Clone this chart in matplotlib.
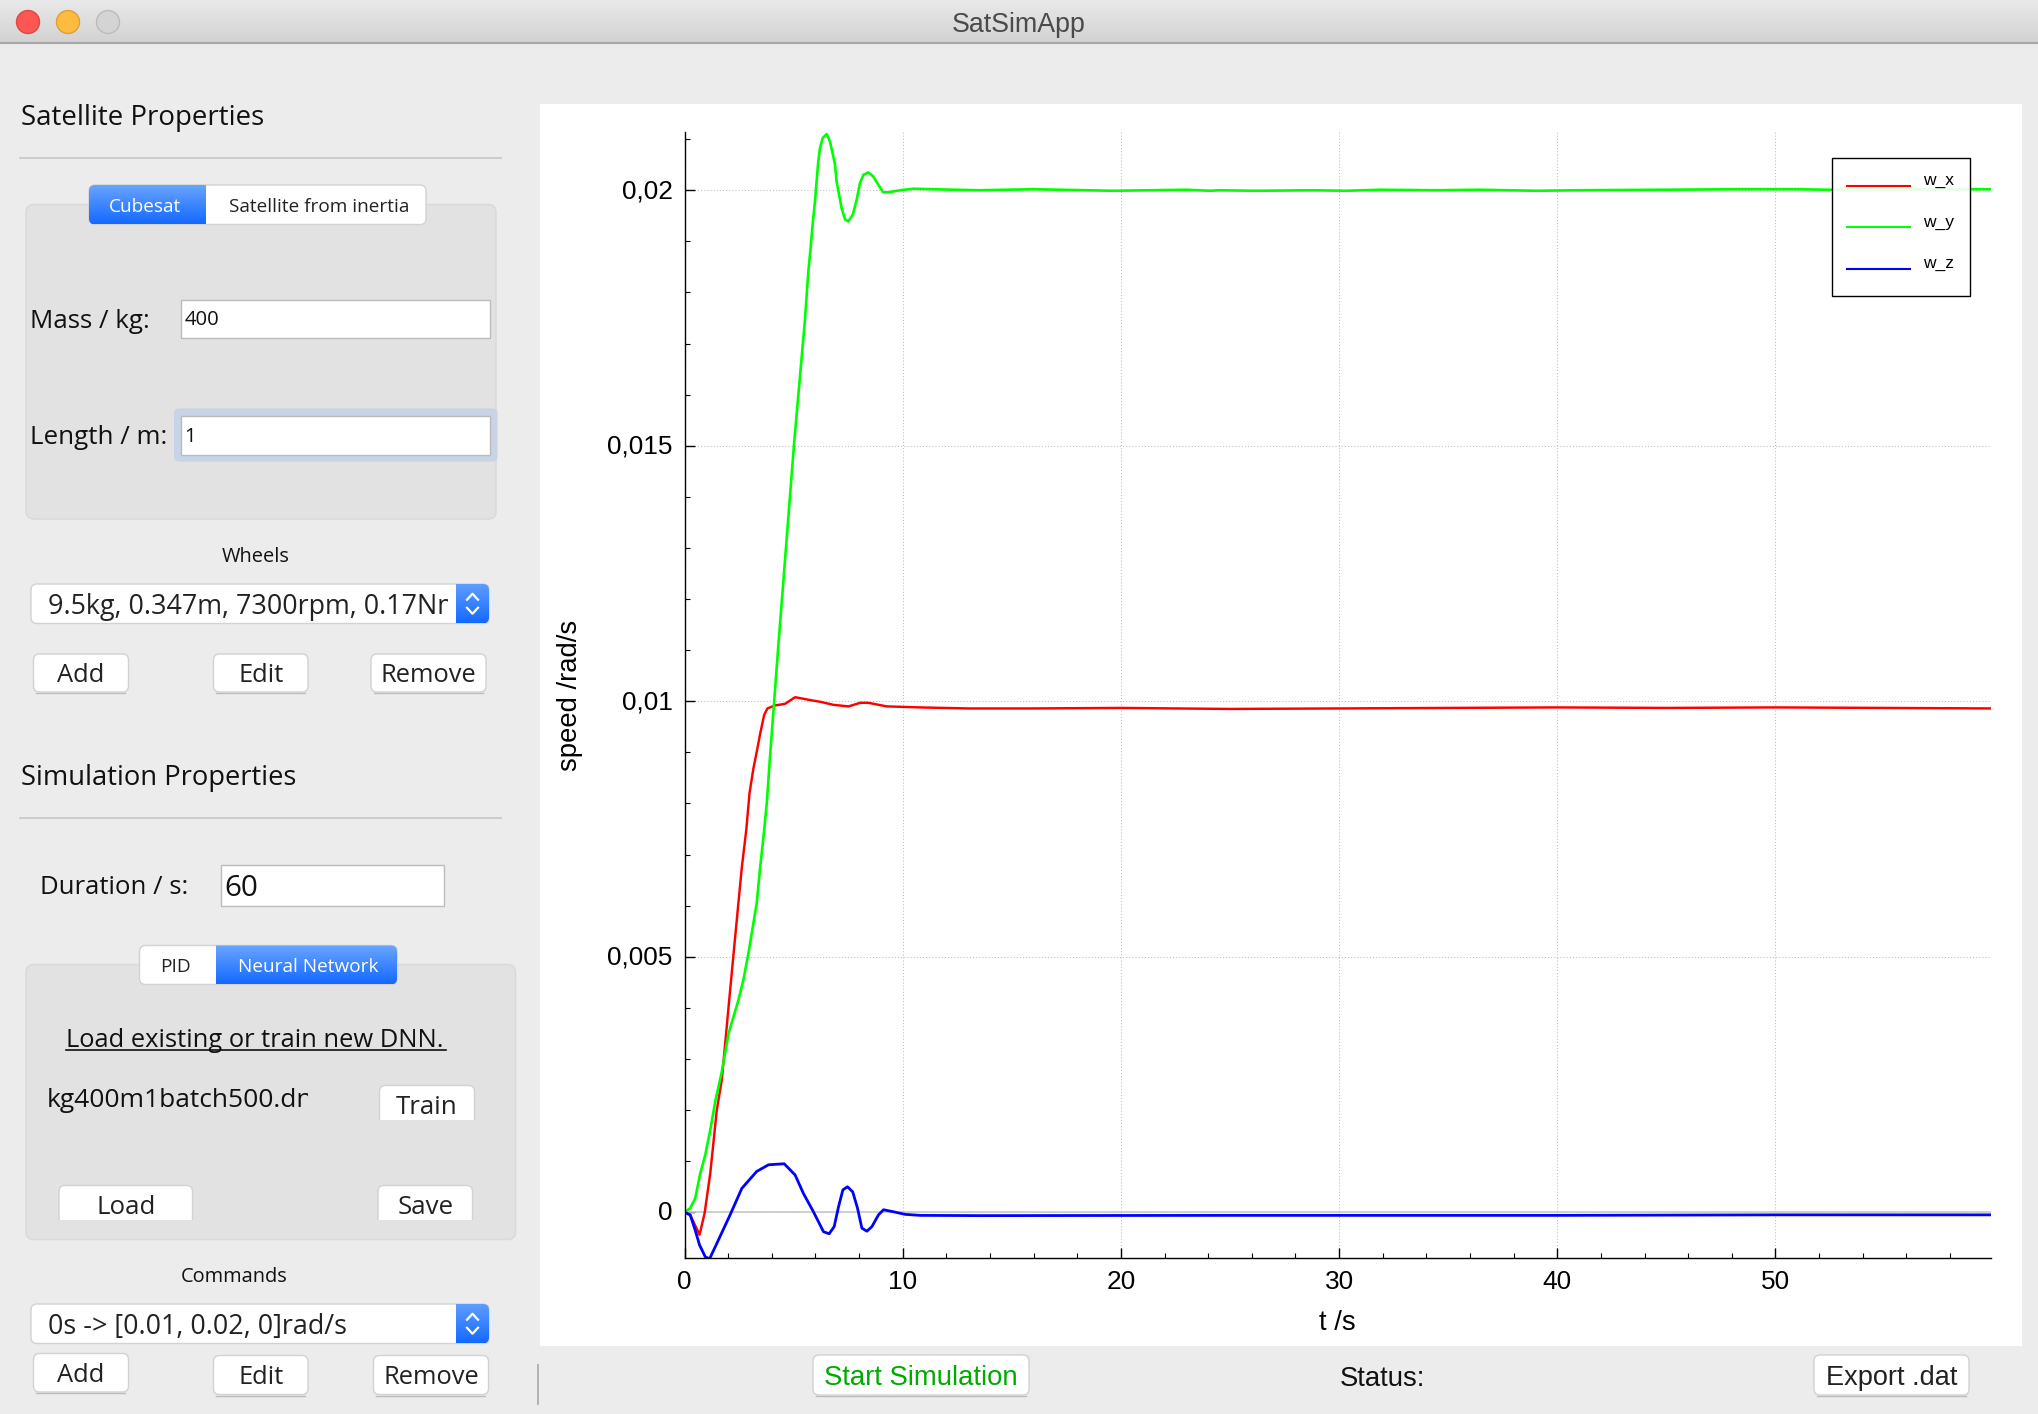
import matplotlib
matplotlib.use('Agg')
import matplotlib.pyplot as plt
import numpy as np
from matplotlib.patches import Circle, FancyBboxPatch, Rectangle
from matplotlib.ticker import MultipleLocator
from matplotlib.transforms import Bbox, ScaledTranslation, TransformedBbox

plt.rcParams['font.family'] = ['Liberation Sans', 'DejaVu Sans']

# Curves
t_x = [0, 0.26, 0.69, 0.92, 1.18, 1.48, 1.71, 2.02, 2.28, 2.47, 2.63, 2.83, 2.98, 3.16, 3.31,
       3.47, 3.65, 3.80, 4.16, 4.61, 5.07, 5.68, 6.22, 6.83, 7.52, 8.05, 8.43, 9.27, 10.04,
       10.8, 13, 16, 20, 25, 30, 35, 40, 45, 50, 55, 59.88]
w_x = [0, -0.00005, -0.00044, -0.00002, 0.00076, 0.0020, 0.00259, 0.00402, 0.0052, 0.00605,
       0.00676, 0.00748, 0.0082, 0.00869, 0.00901, 0.00937, 0.00973, 0.00986, 0.00992, 0.00995,
       0.01008, 0.01003, 0.00999, 0.00993, 0.0099, 0.00997, 0.00997, 0.0099, 0.00989, 0.00988,
       0.00986, 0.00986, 0.00987, 0.00985, 0.00986, 0.00987, 0.00988, 0.00987, 0.00988, 0.00987,
       0.00986]

t_y = [0, 0.26, 0.49, 0.72, 0.95, 1.18, 1.41, 1.71, 2.02, 2.47, 2.70, 2.93, 3.16, 3.31, 3.47,
       3.62, 3.77, 3.93, 4.08, 4.285, 5.02, 5.52, 5.6, 5.67, 5.78, 5.87, 5.98, 6.06, 6.13, 6.21,
       6.33, 6.52, 6.67, 6.79, 6.9, 6.97, 7.1, 7.2, 7.36, 7.51, 7.71, 7.89, 8.04, 8.2, 8.42, 8.65,
       8.88, 9.11, 9.34, 9.88, 10.49, 11.4, 13.5, 16.0, 19.65, 23.0, 24.1, 24.5, 26.2, 28.8, 30.3,
       31.9, 34.5, 36.4, 39.06, 41.0, 44.7, 48.2, 51.0, 52.4, 58.9, 59.88]
w_y = [0, 0.00008, 0.00027, 0.00076, 0.00112, 0.00161, 0.00217, 0.00275, 0.0035, 0.00415,
       0.00455, 0.00507, 0.00566, 0.00605, 0.00676, 0.00735, 0.008, 0.00898, 0.00983, 0.011,
       0.01503, 0.01746, 0.01795, 0.01838, 0.01887, 0.01932, 0.01978, 0.0202, 0.02056, 0.02082,
       0.02102, 0.0211, 0.02095, 0.02072, 0.0205, 0.02017, 0.01988, 0.01965, 0.01943, 0.01939,
       0.01952, 0.01981, 0.02014, 0.0203, 0.02035, 0.02027, 0.02011, 0.01996, 0.01996, 0.02,
       0.02003, 0.02002, 0.02, 0.02002, 0.01999, 0.02001, 0.01999, 0.02, 0.01999, 0.02, 0.01999,
       0.02001, 0.02, 0.02001, 0.01999, 0.02, 0.02001, 0.02002, 0.02002, 0.02001, 0.02002, 0.02002]

t_z = [0, 0.26, 0.49, 0.69, 0.95, 1.15, 1.48, 2.09, 2.63, 3.31, 3.85, 4.57, 5.07, 5.45, 5.91,
       6.37, 6.63, 6.86, 7.06, 7.26, 7.47, 7.71, 7.93, 8.13, 8.36, 8.59, 8.89, 9.12, 9.58, 10.11,
       10.8, 13.55, 25, 40, 50, 59.88]
w_z = [0, -0.00005, -0.00035, -0.00064, -0.00087, -0.00091, -0.00061, -0.00005, 0.00047, 0.0008,
       0.00093, 0.00095, 0.00073, 0.00037, 0.00001, -0.00038, -0.00042, -0.00028, 0.00011, 0.00044,
       0.0005, 0.0004, 0.00008, -0.00031, -0.00037, -0.00028, -0.00005, 0.00005, 0.00001, -0.00004,
       -0.00006, -0.000065, -0.00006, -0.00006, -0.00005, -0.00005]

x_ticks = [0, 10, 20, 30, 40, 50]
y_ticks = [0, 0.005, 0.01, 0.015, 0.02]
y_tick_labels = ['0', '0,005', '0,01', '0,015', '0,02']

W, H = 2038, 1414
fig = plt.figure(figsize=(W / 100, H / 100), dpi=100, facecolor='#ececec')

# window chrome is drawn in pixel coordinates on a full size axes
ui = fig.add_axes([0, 0, 1, 1], zorder=0)
ui.set_xlim(0, W)
ui.set_ylim(H, 0)
ui.axis('off')

PANEL_FONT = 'Open Sans'
BAR_FONT = 'Liberation Sans'


def label(x, y, s, size=15, color='#111111', ha='left', clip_x=None, font=PANEL_FONT):
    t = ui.text(x, y, s, fontsize=size, color=color, ha=ha, va='center_baseline', family=font)
    if clip_x is not None:
        t.set_clip_box(TransformedBbox(Bbox([[0, 0], [clip_x, H]]), ui.transData))
        t.set_clip_on(True)
    return t


def rounded(x0, y0, x1, y1, fc='white', ec='#c2c2c2', r=6, lw=1.2, z=2):
    p = FancyBboxPatch((x0, y0), x1 - x0, y1 - y0, boxstyle=f'round,pad=0,rounding_size={r}',
                       fc=fc, ec=ec, lw=lw, zorder=z, mutation_aspect=1)
    ui.add_patch(p)
    return p


def gradient(x0, y0, x1, y1, top, bottom, clip=None, z=3):
    c0 = np.array(matplotlib.colors.to_rgb(top))
    c1 = np.array(matplotlib.colors.to_rgb(bottom))
    g = np.linspace(0, 1, 64)[:, None, None] * (c1 - c0) + c0
    im = ui.imshow(g, extent=(x0, x1, y1, y0), aspect='auto', zorder=z, interpolation='bilinear')
    if clip is not None:
        im.set_clip_path(clip)
    ui.set_xlim(0, W)
    ui.set_ylim(H, 0)


def button(x0, y0, x1, y1, s, color='#222222', size=18.4, font=PANEL_FONT):
    ui.plot([x0 + 3, x1 - 3], [y1 + 1, y1 + 1], color='#bcbcbc', lw=1, zorder=1)
    rounded(x0, y0, x1, y1, ec='#d2d2d2', lw=1)
    label((x0 + x1) / 2, (y0 + y1) / 2, s, size=size, color=color, ha='center', font=font).set_zorder(4)


def cut_button(x0, y0, x1, y1, s):
    rounded(x0, y0, x1, y1 + 12, ec='#d2d2d2', lw=1)
    ui.add_patch(Rectangle((x0 - 3, y1), x1 - x0 + 6, 16, fc='#e2e2e2', ec='none', zorder=3))
    label((x0 + x1) / 2, y1 - 15, s, size=18.6, color='#222222', ha='center').set_zorder(4)


def field(x0, y0, x1, y1, s, size=14.6):
    ui.add_patch(Rectangle((x0, y0), x1 - x0, y1 - y0, fc='white', ec='#bcbcbc', lw=1, zorder=2))
    label(x0 + 3, (y0 + y1) / 2 - 1, s, size=size).set_zorder(4)


def combo(y0, y1, s, clip_x=None):
    p = rounded(31, y0, 489, y1, ec='#d2d2d2', lw=1)
    gradient(456, y0, 489, y1, '#5f9fff', '#1469ff', clip=p)
    mid = (y0 + y1) / 2
    ui.plot([467, 472.5, 478], [mid - 4, mid - 10, mid - 4], color='white', lw=1.6, zorder=4)
    ui.plot([467, 472.5, 478], [mid + 4, mid + 10, mid + 4], color='white', lw=1.6, zorder=4)
    label(48, mid, s, size=19.4, color='#222222', clip_x=clip_x).set_zorder(4)


def tabs(x0, split, x1, y0, y1, left, left_x, right, right_x, blue_left):
    p = rounded(x0, y0, x1, y1, ec='#d2d2d2', lw=1, z=3)
    if blue_left:
        gradient(x0, y0, split, y1, '#6aa5ff', '#1469ff', clip=p, z=3.5)
    else:
        gradient(split, y0, x1, y1, '#6aa5ff', '#1469ff', clip=p, z=3.5)
    mid = (y0 + y1) / 2
    label(left_x, mid, left, size=13.7, color='white' if blue_left else '#222222',
          ha='center').set_zorder(5)
    label(right_x, mid, right, size=13.7, color='#222222' if blue_left else 'white',
          ha='center').set_zorder(5)


# title bar
gradient(0, 0, W, 43, '#e9e9e9', '#d2d2d2', z=1)
ui.plot([0, W], [43, 43], color='#a6a6a6', lw=1.5, zorder=2)
for cx, col, edge in [(28, '#fc5753', '#df4744'), (68, '#fdbc40', '#de9f34'), (108, '#d4d4d4', '#bcbcbc')]:
    ui.add_patch(Circle((cx, 22), 11.5, fc=col, ec=edge, lw=1, zorder=3))
label(1019, 21.5, 'SatSimApp', size=19.3, color='#4a4a4a', ha='center', font=BAR_FONT).set_zorder(3)

# white plot panel
ui.add_patch(Rectangle((540, 104), 1482, 1242, fc='white', ec='none', zorder=0.5))

# satellite properties
label(21, 115, 'Satellite Properties', size=19.9)
ui.plot([20, 501], [158, 158], color='#c6c6c6', lw=1.2)
rounded(26, 204.5, 496, 519, fc='#e2e2e2', ec='#dadada', r=8, z=1)
tabs(89, 206, 426, 185, 224.5, 'Cubesat', 145, 'Satellite from inertia', 319.5, True)
label(30, 319, 'Mass / kg:', size=18.7)
field(181.5, 299.5, 490, 338, '400')
rounded(174, 408.5, 497.5, 461.5, fc='#c6d4e6', ec='none', r=5, z=1.5)
label(30, 435, 'Length / m:', size=18.7)
field(181.5, 415.5, 490, 454.5, '1')
label(255.5, 555, 'Wheels', size=14.4, ha='center')
combo(584, 623.5, '9.5kg, 0.347m, 7300rpm, 0.17Nm', clip_x=448)
button(33.5, 654, 128.5, 692, 'Add')
button(213.5, 654, 308, 692, 'Edit')
button(371, 654, 486, 692, 'Remove')

# simulation properties
label(21, 775, 'Simulation Properties', size=19.7)
ui.plot([20, 501], [818, 818], color='#c6c6c6', lw=1.2)
label(40, 885, 'Duration / s:', size=18.5)
field(221.5, 865, 444.5, 906, '60', size=21.3)
rounded(26, 964.5, 515.5, 1239.5, fc='#e2e2e2', ec='#dadada', r=8, z=1)
tabs(139.5, 216, 397, 945.5, 984.5, 'PID', 175.6, 'Neural Network', 308.5, False)
label(66.5, 1037.5, 'Load existing or train new DNN.', size=18.4).set_zorder(4)
ui.plot([66.5, 446], [1050, 1050], color='#111111', lw=1.2, zorder=4)
label(46.5, 1097.5, 'kg400m1batch500.dnn', size=19, clip_x=308).set_zorder(4)
cut_button(379.5, 1085.5, 474.5, 1120, 'Train')
cut_button(59, 1185.5, 192.5, 1220, 'Load')
cut_button(378, 1185.5, 472.5, 1220, 'Save')
label(234, 1275, 'Commands', size=14.4, ha='center')
combo(1304, 1343.5, '0s -> [0.01, 0.02, 0]rad/s')
button(33.5, 1353.5, 128.5, 1392, 'Add')
button(213.5, 1355.5, 308, 1394.5, 'Edit')
button(373.5, 1355.5, 488.5, 1394.5, 'Remove')

# bottom row
ui.plot([538, 538], [1365, 1404], color='#a8a8a8', lw=1.2)
button(813, 1355, 1029, 1395, 'Start Simulation', color='#00aa00', size=19.8, font=BAR_FONT)
label(1340, 1376, 'Status:', size=19.8, font=BAR_FONT)
button(1814, 1355, 1969, 1395, 'Export .dat', size=19.5, font=BAR_FONT)

# the chart
left, right, top, bottom = 684.5, 1991, 132, 1258.3
ax = fig.add_axes([left / W, 1 - bottom / H, (right - left) / W, (bottom - top) / H], zorder=1)
ax.patch.set_alpha(0)
ax.set_xlim(0, 59.88)
ax.set_ylim(-0.0009, 0.02114)
for side in ['top', 'right']:
    ax.spines[side].set_visible(False)
for side in ['left', 'bottom']:
    ax.spines[side].set_linewidth(1.0)

ax.set_xticks(x_ticks)
ax.set_yticks(y_ticks)
ax.set_yticklabels(y_tick_labels)
ax.xaxis.set_minor_locator(MultipleLocator(2))
ax.yaxis.set_minor_locator(MultipleLocator(0.001))
ax.tick_params(which='major', direction='in', length=7.2, width=1, labelsize=18.9, pad=8.6)
ax.tick_params(which='minor', direction='in', length=3.6, width=0.8)
ax.grid(True, which='major', color='#bdbdbd', linestyle=(0, (1, 2)), linewidth=0.75)
ax.set_axisbelow(True)
ax.axhline(0, color='#c8c8c8', lw=1.2, zorder=1)

# y tick labels sit a touch above their ticks
nudge = ScaledTranslation(0, 1.5 / 100, fig.dpi_scale_trans)
for tick_label in ax.get_yticklabels():
    tick_label.set_transform(tick_label.get_transform() + nudge)

ax.plot(t_x, w_x, color='#ff0000', lw=1.75, label='w_x')
ax.plot(t_y, w_y, color='#00ff00', lw=1.9, label='w_y')
ax.plot(t_z, w_z, color='#0000ff', lw=2.0, label='w_z')

ax.set_xlabel('t /s', fontsize=19.8, labelpad=11)
ax.set_ylabel('speed /rad/s', fontsize=19.8, labelpad=17)

# legend box is taller than its entries and the lines sit below the text
ax.add_patch(Rectangle((1832.3, 158.3), 137.7, 137.7, transform=ui.transData, fc=(1, 1, 1, 0.9),
                       ec='black', lw=1, zorder=5, clip_on=False))
leg = ax.legend(loc='upper left', bbox_to_anchor=(1832.3 / W, 1 - 158.3 / H),
                bbox_transform=fig.transFigure, borderaxespad=0, fontsize=12.5, frameon=False,
                handlelength=3.65, handletextpad=0.72, borderpad=0.85, labelspacing=1.5)
leg.set_zorder(6)
for line in leg.get_lines():
    line.set_linewidth(1.5)
    line.set_ydata(np.asarray(line.get_ydata()) - 5)

fig.savefig('out.png', dpi=100)
